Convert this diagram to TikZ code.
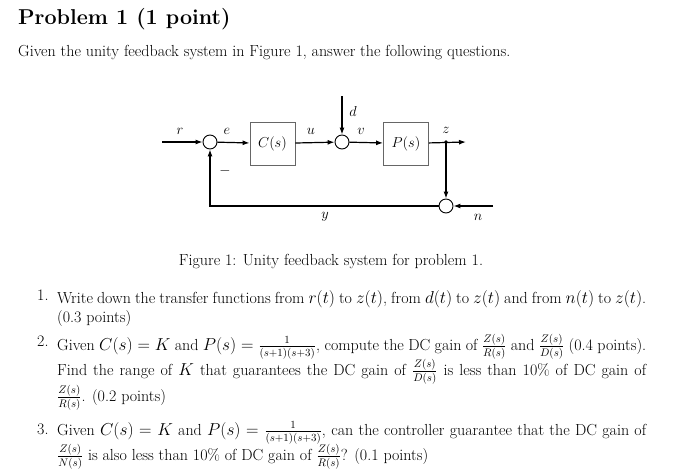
\documentclass[tikz,border=0pt]{standalone}
\usetikzlibrary{arrows.meta}
\begin{document}
\begin{tikzpicture}[x=1pt,y=-1pt,
  sumj/.style={circle,draw,line width=0.9pt,minimum size=14pt,inner sep=0pt},
  blk/.style={draw=gray!80!black,line width=0.8pt,minimum width=45pt,minimum height=43pt,font=\fontsize{15}{17}\selectfont},
  sig/.style={line width=1.2pt,-{Latex[length=7pt,width=5pt]}},
  lab/.style={font=\fontsize{14}{16}\selectfont\itshape},
  txt/.style={font=\fontsize{16}{19.5}\selectfont,inner sep=0pt}]
\useasboundingbox (0,0) rectangle (684,471);
\node[txt,anchor=west,font=\fontsize{21.5}{24}\selectfont\bfseries] (title) at (18,19) {Problem 1 (1 point)};
\node[txt,anchor=west] (intro) at (18,53) {Given the unity feedback system in Figure 1, answer the following questions.};
% diagram
\coordinate (rin) at (162,142);
\node[sumj] (s1) at (210,142) {};
\node[blk] (C) at (272.5,143.5) {$C(s)$};
\node[sumj] (s2) at (342,142) {};
\coordinate (din) at (342,96);
\node[blk] (P) at (406,143.5) {$P(s)$};
\coordinate (j) at (446,142);
\coordinate (zout) at (466,142);
\node[sumj] (s3) at (446,206) {};
\coordinate (nin) at (493,206);
\coordinate (fb) at (210,206);
\draw[sig] (rin) -- (s1);
\draw[sig] (s1) -- (C);
\draw[sig] (C) -- (s2);
\draw[sig] (din) -- (s2);
\draw[sig] (s2) -- (P);
\draw[sig] (P) -- (zout);
\draw[sig] (j) -- (s3);
\draw[sig] (nin) -- (s3);
\draw[sig] (s3) -- (fb) -- (s1);
\fill (j) circle (1.8pt);
\node[lab] at (180,131) {$r$};
\node[lab] at (227,131) {$e$};
\node[lab] at (311,131) {$u$};
\node[lab] at (361,131) {$v$};
\node[lab] at (353,111) {$d$};
\node[lab] at (446,130) {$z$};
\node[lab] at (225,171) {$-$};
\node[lab] at (325,217) {$y$};
\node[lab] at (478,217) {$n$};
\node[txt] (cap) at (331,262) {Figure 1: Unity feedback system for problem 1.};
% items
\node[txt,anchor=north west] at (37,290) {1.};
\node[txt,anchor=north west,text width=589pt,align=justify] (i1) at (57,290) {Write down the transfer functions from $r(t)$ to $z(t)$, from $d(t)$ to $z(t)$ and from $n(t)$ to $z(t)$.\linebreak (0.3 points)};
\node[txt,anchor=north west] at (37,336) {2.};
\node[txt,anchor=north west,text width=589pt,align=justify] (i2) at (57,334) {Given $C(s)=K$ and $P(s)=\frac{1}{(s+1)(s+3)}$, compute the DC gain of $\frac{Z(s)}{R(s)}$ and $\frac{Z(s)}{D(s)}$ (0.4 points).\linebreak Find the range of $K$ that guarantees the DC gain of $\frac{Z(s)}{D(s)}$ is less than 10\% of DC gain of\linebreak $\frac{Z(s)}{R(s)}$. (0.2 points)};
\node[txt,anchor=north west] at (37,424) {3.};
\node[txt,anchor=north west,text width=589pt,align=justify] (i3) at (57,421) {Given $C(s)=K$ and $P(s)=\frac{1}{(s+1)(s+3)}$, can the controller guarantee that the DC gain of\linebreak $\frac{Z(s)}{N(s)}$ is also less than 10\% of DC gain of $\frac{Z(s)}{R(s)}$? (0.1 points)};
\end{tikzpicture}
\end{document}
